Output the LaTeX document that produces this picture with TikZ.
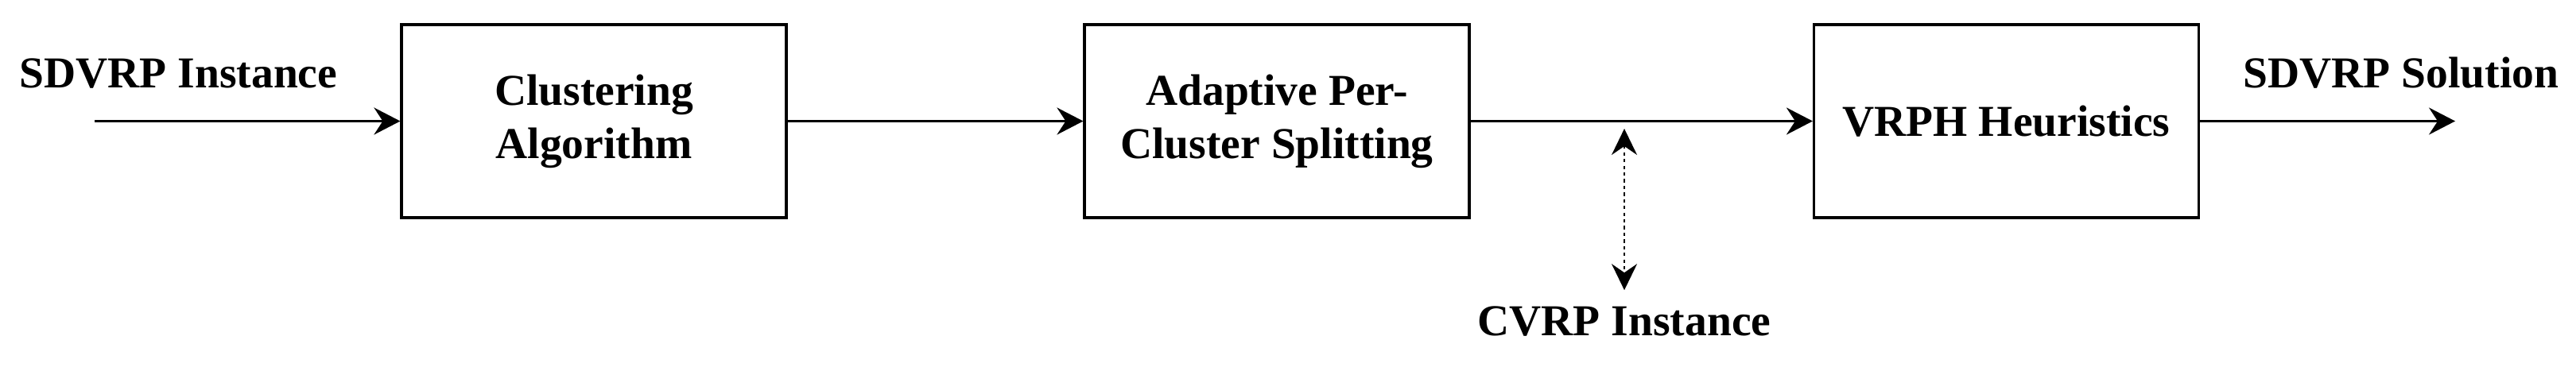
\documentclass[tikz,border=0pt]{standalone}
\usepackage{fontspec}
\setmainfont{Liberation Serif}
\usetikzlibrary{arrows.meta}

\begin{document}
\begin{tikzpicture}[
	stage/.style={draw,line width=0.9pt,minimum width=4.84cm,minimum height=2.43cm,inner sep=0pt,align=center,font=\fontsize{15.8}{19}\selectfont\bfseries},
	lbl/.style={inner sep=0pt,anchor=base,font=\fontsize{15.8}{19}\selectfont\bfseries},
	flow/.style={line width=0.9pt,-{Stealth[length=3.3mm,width=3.4mm,inset=1.1mm]}},
	link/.style={line width=0.6pt,dash pattern=on 1.2pt off 1.2pt,{Stealth[length=3.3mm,width=3.2mm,inset=1.1mm]}-{Stealth[length=3.3mm,width=3.2mm,inset=1.1mm]}}]
	\useasboundingbox (0,0) rectangle (32.4,4.61);
	% stages
	\node[stage] (clu) at (7.47,3.085) {Clustering\\Algorithm};
	\node[stage] (split) at (16.06,3.085) {Adaptive Per-\\Cluster Splitting};
	\node[stage] (vrph) at (25.235,3.085) {VRPH Heuristics};
	% input / output
	\coordinate (in) at (1.19,3.085);
	\coordinate (out) at (30.88,3.085);
	\node[lbl] (sdin) at (2.245,3.51) {SDVRP Instance};
	\node[lbl] (sdout) at (30.2,3.51) {SDVRP Solution};
	% side output
	\coordinate (tap) at (20.43,2.99);
	\node[lbl,inner ysep=5.5pt] (cvrp) at (20.43,0.39) {CVRP Instance};
	\draw[flow] (in) -- (clu);
	\draw[flow] (clu) -- (split);
	\draw[flow] (split) -- (vrph);
	\draw[flow] (vrph) -- (out);
	\draw[link] (tap) -- (cvrp.north);
\end{tikzpicture}
\end{document}
